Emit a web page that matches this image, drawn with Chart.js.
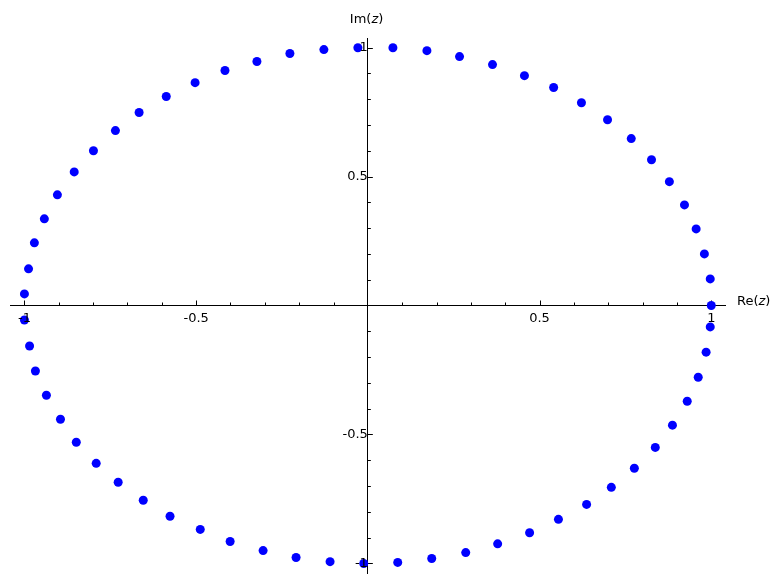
<!DOCTYPE html>
<html>
<head>
<meta charset="utf-8">
<script src="https://cdn.jsdelivr.net/npm/chart.js@4"></script>
<style>
  html, body { margin: 0; padding: 0; background: #fff; }
  #wrap { width: 783px; height: 583px; }
</style>
</head>
<body>
<div id="wrap"><canvas id="plot"></canvas></div>
<script>
const reValues = [1.000, 0.997, 0.980, 0.956, 0.922, 0.878, 0.826, 0.767, 0.698, 0.622, 0.541, 0.456, 0.363, 0.267, 0.172, 0.073,
  -0.029, -0.128, -0.227, -0.323, -0.416, -0.503, -0.587, -0.666, -0.735, -0.799, -0.855, -0.904, -0.942, -0.971, -0.988, -1.000,
  -1.000, -0.985, -0.968, -0.936, -0.895, -0.849, -0.791, -0.727, -0.654, -0.576, -0.488, -0.401, -0.305, -0.209, -0.110, -0.012,
  0.087, 0.186, 0.285, 0.378, 0.471, 0.555, 0.637, 0.709, 0.776, 0.837, 0.887, 0.930, 0.962, 0.985, 0.997];
const imValues = [0.000, 0.103, 0.200, 0.297, 0.390, 0.480, 0.565, 0.647, 0.720, 0.786, 0.845, 0.891, 0.934, 0.965, 0.988, 0.999,
  0.999, 0.992, 0.977, 0.946, 0.911, 0.864, 0.810, 0.748, 0.678, 0.600, 0.518, 0.429, 0.336, 0.243, 0.142, 0.045,
  -0.056, -0.157, -0.254, -0.348, -0.441, -0.530, -0.612, -0.685, -0.755, -0.817, -0.868, -0.915, -0.950, -0.977, -0.993, -1.000,
  -0.996, -0.981, -0.958, -0.924, -0.881, -0.829, -0.771, -0.705, -0.631, -0.550, -0.464, -0.371, -0.278, -0.181, -0.083];

// tick labels and tick marks
const majorTicks = [-1, -0.5, 0.5, 1];
const minorTicks = [-1, -0.9, -0.8, -0.7, -0.6, -0.5, -0.4, -0.3, -0.2, -0.1, 0.1, 0.2, 0.3, 0.4, 0.5, 0.6, 0.7, 0.8, 0.9, 1];
const xTitle = "Re(";
const yTitle = "Im(";

Chart.defaults.font.family = "'DejaVu Sans', sans-serif";
Chart.defaults.color = "#000";

const points = reValues.map((re, i) => ({ x: re, y: imValues[i] }));

// little tick marks on the inner side of the axes, like sage/matplotlib
const tickMarks = {
  id: "tickMarks",
  beforeDatasetsDraw(chart) {
    const { ctx, scales: { x, y } } = chart;
    const x0 = x.getPixelForValue(0);
    const y0 = y.getPixelForValue(0);
    ctx.save();
    ctx.strokeStyle = "#000";
    ctx.lineWidth = 1;
    ctx.beginPath();
    minorTicks.forEach(v => {
      const len = majorTicks.includes(v) ? 5 : 3;
      const px = Math.round(x.getPixelForValue(v)) + 0.5;
      ctx.moveTo(px, y0);
      ctx.lineTo(px, y0 - len);
      const py = Math.round(y.getPixelForValue(v)) + 0.5;
      ctx.moveTo(x0, py);
      ctx.lineTo(x0 + len, py);
    });
    ctx.stroke();
    ctx.restore();
  },
  afterDraw(chart) {
    const { ctx, chartArea, scales: { x, y } } = chart;
    const x0 = x.getPixelForValue(0);
    const y0 = y.getPixelForValue(0);
    const drawTitle = (start, left, base) => {
      ctx.font = "13px 'DejaVu Sans'";
      ctx.fillText(start, left, base);
      let w = ctx.measureText(start).width;
      ctx.font = "italic 13px 'DejaVu Sans'";
      ctx.fillText("z", left + w, base);
      w += ctx.measureText("z").width;
      ctx.font = "13px 'DejaVu Sans'";
      ctx.fillText(")", left + w, base);
    };
    ctx.save();
    ctx.fillStyle = "#000";
    ctx.textBaseline = "alphabetic";
    ctx.textAlign = "left";
    drawTitle(yTitle, x0 - 18, chartArea.top - 15);
    drawTitle(xTitle, chartArea.right + 12, y0 - 1);
    ctx.restore();
  }
};

// axes sit inside the plot, so they should not eat any layout space
const zeroFit = (scale) => {
  if (scale.isHorizontal()) scale.height = 0; else scale.width = 0;
  scale.paddingTop = scale.paddingBottom = scale.paddingLeft = scale.paddingRight = 0;
};
const setTicks = (scale) => {
  scale.ticks = majorTicks.map(v => ({ value: v }));
};

new Chart(document.getElementById("plot"), {
  type: "scatter",
  data: {
    datasets: [{
      data: points,
      backgroundColor: "#0000ff",
      borderWidth: 0,
      pointRadius: 4.5,
      pointHoverRadius: 4.5
    }]
  },
  options: {
    responsive: true,
    maintainAspectRatio: false,
    animation: false,
    layout: { padding: { left: 10, right: 58, top: 38, bottom: 10 } },
    plugins: { legend: { display: false }, tooltip: { enabled: false } },
    scales: {
      x: {
        type: "linear",
        position: { y: 0 },
        min: -1.042,
        max: 1.04,
        afterBuildTicks: setTicks,
        afterFit: zeroFit,
        grid: { display: false, drawTicks: false },
        border: { display: true, color: "#000", width: 1 },
        ticks: { z: 1, padding: 5, autoSkip: false, maxRotation: 0, font: { size: 13 }, callback: v => String(v) }
      },
      y: {
        type: "linear",
        position: { x: 0 },
        min: -1.037,
        max: 1.037,
        afterBuildTicks: setTicks,
        afterFit: zeroFit,
        grid: { display: false, drawTicks: false },
        border: { display: true, color: "#000", width: 1 },
        ticks: { z: 1, padding: 5, autoSkip: false, font: { size: 13 }, callback: v => String(v) }
      }
    }
  },
  plugins: [tickMarks]
});
</script>
</body>
</html>
